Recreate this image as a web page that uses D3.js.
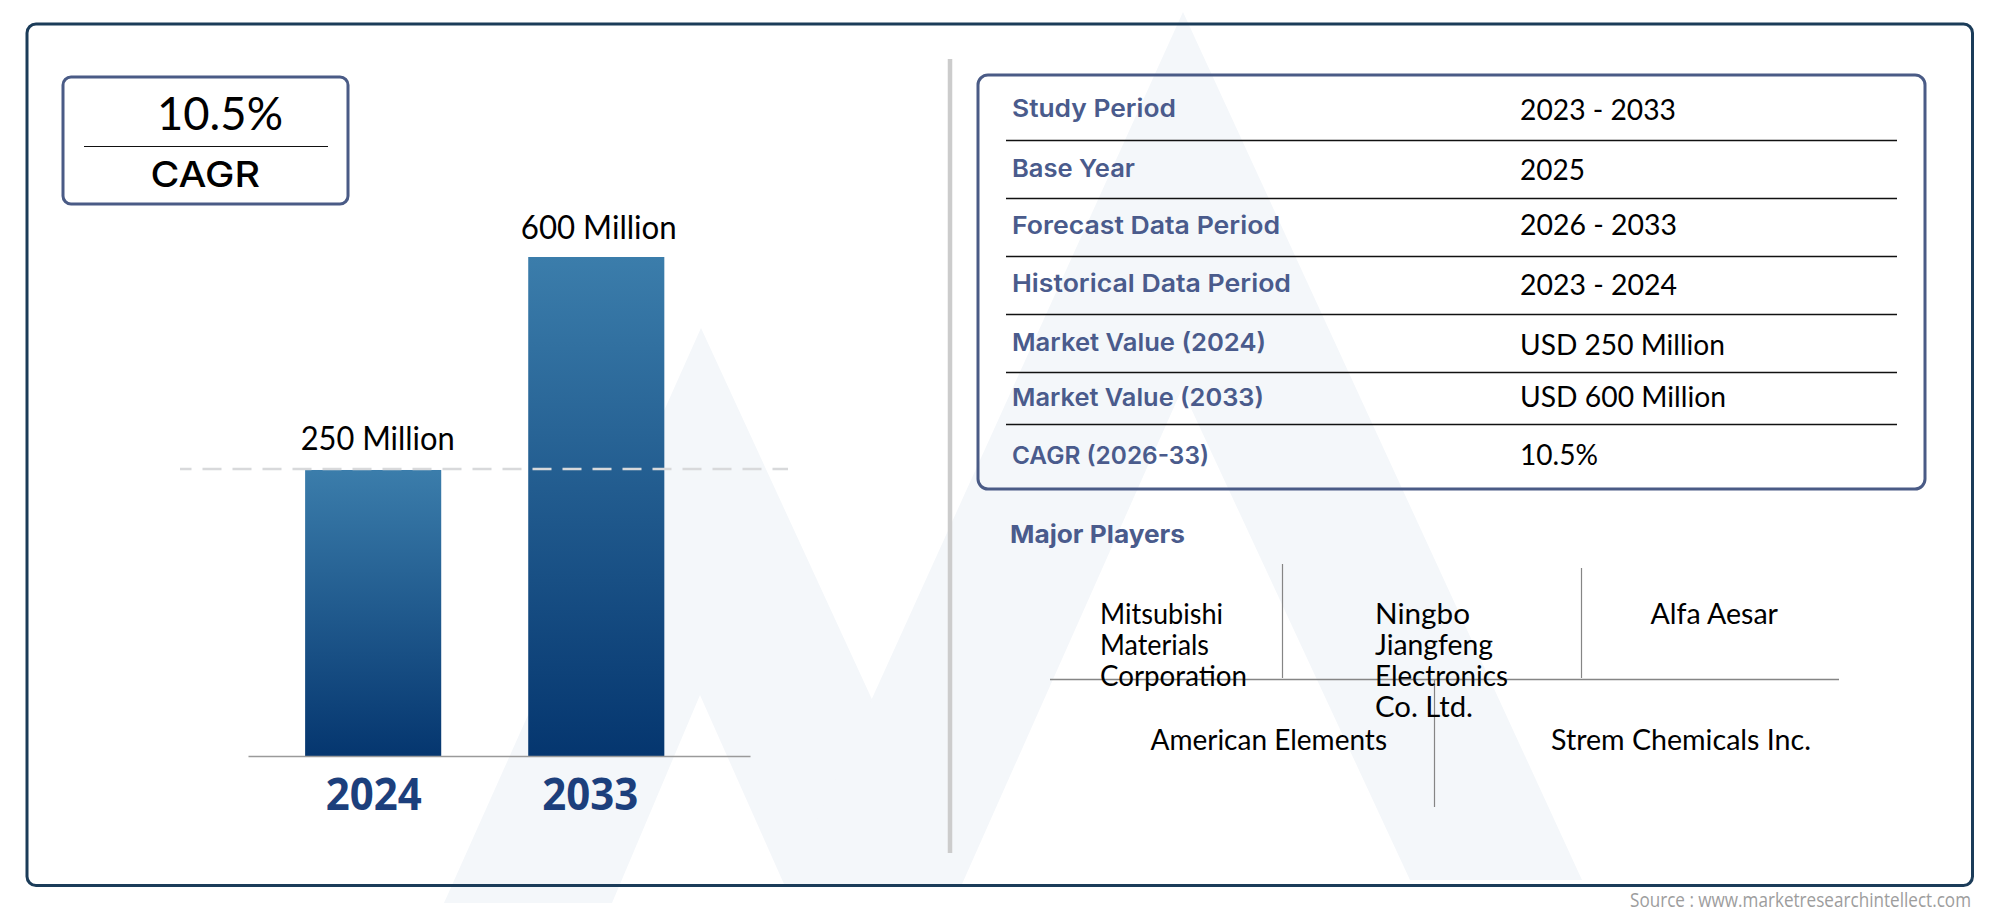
<!DOCTYPE html>
<html><head><meta charset="utf-8">
<script src="https://d3js.org/d3.v7.min.js"></script>
<style>html,body{margin:0;padding:0;background:#fff}svg{display:block}</style>
</head><body><div id="c"></div>
<script>
// ---- data ----
const years = ["2024", "2033"];
const marketValues = [250, 600];
const valueLabels = ["250 Million", "600 Million"];
const cagrValue = "10.5%";
const cagrLabel = "CAGR";
const tableLabels = ["Study Period","Base Year","Forecast Data Period","Historical Data Period","Market Value (2024)","Market Value (2033)","CAGR (2026-33)"];
const tableValues = ["2023 - 2033","2025","2026 - 2033","2023 - 2024","USD 250 Million","USD 600 Million","10.5%"];
const playersTitle = "Major Players";
const players = [["Mitsubishi","Materials","Corporation"],["Ningbo","Jiangfeng","Electronics","Co. Ltd."],["Alfa Aesar"],["American Elements"],["Strem Chemicals Inc."]];
const sourceText = "Source : www.marketresearchintellect.com";

// ---- layout ----
const W = 2000, H = 917;
const BODY = "Lato, sans-serif", HEAD = "Inter, sans-serif";
const svg = d3.select("#c").append("svg").attr("width", W).attr("height", H).attr("viewBox", `0 0 ${W} ${H}`);
const text = (x, y, s, size, fill, family, weight, len, anchor) => svg.append("text")
  .attr("x", x).attr("y", y).attr("font-size", size).attr("fill", fill)
  .attr("font-family", family).attr("font-weight", weight).attr("text-anchor", anchor || "start")
  .attr("textLength", len).attr("lengthAdjust", "spacingAndGlyphs").text(s);
const rule = (x1, y1, x2, y2, c, w) => svg.append("line").attr("x1", x1).attr("y1", y1).attr("x2", x2).attr("y2", y2).attr("stroke", c).attr("stroke-width", w);

// watermark
const wm = [
  [[701,328],[957,884],[784,884],[700,695],[612,903],[444,903]],
  [[1183,12],[1582,880],[1410,880],[1182,389],[962,884],[788,884]]
];
svg.selectAll("polygon.wm").data(wm).join("polygon").attr("class", "wm")
  .attr("points", d => d.map(p => p.join(",")).join(" "))
  .attr("fill", "#f4f7fa");

// frames
svg.append("rect").attr("x", 27).attr("y", 24).attr("width", 1945.5).attr("height", 861.5).attr("rx", 9)
  .attr("fill", "none").attr("stroke", "#1b3c59").attr("stroke-width", 3);
svg.append("rect").attr("x", 63).attr("y", 77).attr("width", 285).attr("height", 127).attr("rx", 8)
  .attr("fill", "none").attr("stroke", "#4a5b86").attr("stroke-width", 3);
svg.append("rect").attr("x", 978).attr("y", 75).attr("width", 947).attr("height", 414).attr("rx", 10)
  .attr("fill", "none").attr("stroke", "#4a5b86").attr("stroke-width", 3);
rule(950, 59, 950, 853, "#cccccc", 4.5);

// CAGR box
text(157, 130, cagrValue, 47, "#000", BODY, 400, 126);
rule(84, 146.5, 328, 146.5, "#111", 1.2);
text(150.5, 186.5, cagrLabel, 36, "#000", HEAD, 500, 109.5);

// bars
const x = d3.scaleBand().domain(years).range([248, 750]).paddingInner(0.39).paddingOuter(0.32).align(0.4);
const y = d3.scaleLinear().domain([-220, 600]).range([756, 257]);
const defs = svg.append("defs");
const grad = defs.append("linearGradient").attr("id", "barG").attr("x1", 0).attr("y1", 0).attr("x2", 0).attr("y2", 1);
grad.append("stop").attr("offset", "0%").attr("stop-color", "#3b7dab");
grad.append("stop").attr("offset", "100%").attr("stop-color", "#05366f");
svg.selectAll("rect.bar").data(years).join("rect").attr("class", "bar")
  .attr("x", d => x(d)).attr("width", x.bandwidth())
  .attr("y", (d, i) => y(marketValues[i])).attr("height", (d, i) => y.range()[0] - y(marketValues[i]))
  .attr("fill", "url(#barG)");

// axis
const axis = svg.append("g").attr("transform", "translate(0,756)")
  .call(d3.axisBottom(x).tickSize(0).tickPadding(22.5));
axis.select(".domain").attr("stroke", "#9a9a9a").attr("stroke-width", 1.6);
const yearNudge = [0.5, -6], yearWidth = [96, 96];
axis.selectAll(".tick text").attr("font-family", "'Open Sans', sans-serif").attr("font-weight", 700)
  .attr("font-size", 44).attr("fill", "#1c3f7c")
  .attr("dx", (d, i) => yearNudge[i])
  .attr("textLength", (d, i) => yearWidth[i]).attr("lengthAdjust", "spacingAndGlyphs");

// value labels
const labelNudge = [4.5, 2.5], labelLift = [20, 18], labelWidth = [154, 156];
svg.selectAll("text.val").data(years).join("text").attr("class", "val")
  .attr("x", (d, i) => x(d) + x.bandwidth() / 2 + labelNudge[i])
  .attr("y", (d, i) => y(marketValues[i]) - labelLift[i])
  .attr("text-anchor", "middle").attr("font-family", BODY).attr("font-weight", 400).attr("font-size", 32).attr("fill", "#000")
  .attr("textLength", (d, i) => labelWidth[i]).attr("lengthAdjust", "spacingAndGlyphs")
  .text((d, i) => valueLabels[i]);

// dashed reference at the 2024 value
rule(180, y(marketValues[0]) - 1, 788, y(marketValues[0]) - 1, "#d8d9db", 2.4)
  .attr("stroke-dasharray", "19 11").attr("stroke-dashoffset", 7.5);

// table
const TH = "#4a5b8c";
const labelBase = [116.5, 176.5, 234, 292, 350.5, 406, 464];
const labelLen = [164, 123, 268, 279, 254, 252, 197];
const valueBase = [120, 180, 235, 295, 355, 406.5, 465];
const valueLen = [156, 65, 157, 157, 205, 206, 78];
const rowRules = [140.5, 198.5, 256.5, 314.5, 372.5, 424.5];
tableLabels.forEach((s, i) => text(1012, labelBase[i], s, 24.5, TH, HEAD, 600, labelLen[i]));
tableValues.forEach((s, i) => text(1520, valueBase[i], s, 29.5, "#000", BODY, 400, valueLen[i]));
rowRules.forEach(v => rule(1006, v, 1897, v, "#111", 1.3));

// major players
text(1010, 543, playersTitle, 24.5, TH, HEAD, 700, 175);
const G = "#858585";
rule(1282.5, 564, 1282.5, 678, G, 1.2);
rule(1581.5, 568, 1581.5, 678, G, 1.2);
rule(1050, 679.5, 1839, 679.5, G, 1.4);
rule(1434.5, 679.5, 1434.5, 807, G, 1.2);
const playerX = [1100, 1375, 1650.5, 1150.5, 1551];
const playerBase = [[624, 655, 686], [624, 655, 685.5, 716.5], [624], [750], [750]];
const playerLen = [[123, 109, 147], [95, 118, 133, 98], [127.5], [236.5], [260]];
players.forEach((lines, i) => lines.forEach((s, j) =>
  text(playerX[i], playerBase[i][j], s, 29.5, "#000", BODY, 400, playerLen[i][j])));

// source
text(1630, 907, sourceText, 20, "#9d9d9d", "'Open Sans', sans-serif", 400, 341);
</script></body></html>
